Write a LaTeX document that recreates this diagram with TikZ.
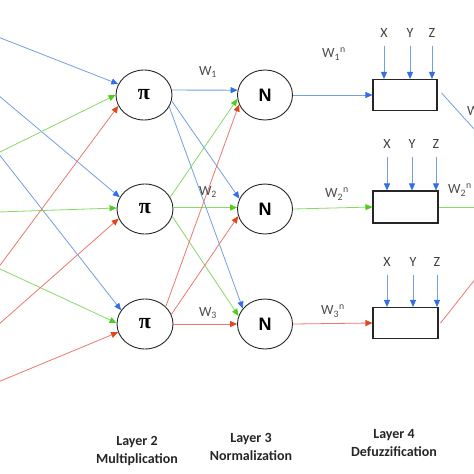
\documentclass[tikz,border=0pt]{standalone}
\usepackage{fontspec}
\setmainfont{Carlito}
\newfontfamily\pifont{Liberation Serif}
\newfontfamily\nfont{Liberation Sans}
\usetikzlibrary{arrows.meta,shapes.geometric}
\definecolor{blueL}{RGB}{115,158,228}
\definecolor{blueT}{RGB}{50,110,230}
\definecolor{greenL}{RGB}{135,218,100}
\definecolor{greenT}{RGB}{80,205,30}
\definecolor{redL}{RGB}{234,120,108}
\definecolor{redT}{RGB}{225,70,30}
\begin{document}
\begin{tikzpicture}[x=1pt,y=-1pt,
 neuron/.style={draw=black!85,line width=0.9pt,ellipse,minimum width=56pt,minimum height=50pt,inner sep=0pt},
 box/.style={draw=black!85,line width=1.1pt,minimum width=64pt,minimum height=31pt,inner sep=0pt},
 bA/.style={draw=blueL,line width=0.8pt,-{Triangle[length=7pt,width=6pt,color=blueT]}},
 gA/.style={draw=greenL,line width=0.8pt,-{Triangle[length=7pt,width=6pt,color=greenT]}},
 rA/.style={draw=redL,line width=0.8pt,-{Triangle[length=7pt,width=6pt,color=redT]}},
 bL/.style={draw=blueL,line width=0.8pt},
 gL/.style={draw=greenL,line width=0.8pt},
 rL/.style={draw=redL,line width=0.8pt},
 wlab/.style={text=black!70,font=\fontsize{14}{16}\selectfont,inner sep=0pt},
 xyz/.style={text=black!75,font=\fontsize{14}{16}\selectfont,inner sep=0pt},
 layer/.style={font=\bfseries\fontsize{14}{18}\selectfont,align=center,text=black!85}
]
\useasboundingbox (0,0) rectangle (474,474);
% left free ends
\coordinate (L1) at (-2,37);
\coordinate (L2) at (-2,95);
\coordinate (L3) at (-2,153);
\coordinate (L4) at (-2,212);
\coordinate (L5) at (-2,268);
\coordinate (L6) at (-2,325);
\coordinate (L7) at (-2,382);
% layer 2
\node[neuron] (P1) at (144,95) {\pifont\bfseries\fontsize{22}{22}\selectfont π};
\node[neuron] (P2) at (145,209) {\pifont\bfseries\fontsize{22}{22}\selectfont π};
\node[neuron] (P3) at (145,324) {\pifont\bfseries\fontsize{22}{22}\selectfont π};
% layer 3
\node[neuron,minimum width=55pt] (N1) at (265,95) {\nfont\bfseries\fontsize{18}{18}\selectfont N};
\node[neuron,minimum width=55pt] (N2) at (265,209) {\nfont\bfseries\fontsize{18}{18}\selectfont N};
\node[neuron,minimum width=55pt] (N3) at (265,324) {\nfont\bfseries\fontsize{18}{18}\selectfont N};
% layer 4 boxes
\node[box] (R1) at (405,95) {};
\node[box,minimum width=65pt,minimum height=32pt] (R2) at (405.5,207) {};
\node[box,minimum width=65pt] (R3) at (405.5,323) {};
% inputs to layer 2
\draw[bA] (L1) -- (P1.157);
\draw[bA] (L2) -- (P2.155);
\draw[bA] (L3) -- (P3.150);
\draw[gA] (L3) -- (P1.180);
\draw[gA] (L4) -- (P2.178);
\draw[gA] (L5) -- (P3.178);
\draw[rA] (L5) -- (P1.203);
\draw[rA] (L6) -- (P2.200);
\draw[rA] (L7) -- (P3.197);
% layer 2 to layer 3
\draw[bA] (P1.10) -- (N1.170);
\draw[bA] (P1.-12) -- (N2.158);
\draw[bA] (P1.-25) -- (N3.145);
\draw[gA] (P2.25) -- (N1.188);
\draw[gA] (P2.3) -- (N2.177);
\draw[gA] (P2.-15) -- (N3.163);
\draw[rA] (P3.40) -- (N1.200);
\draw[rA] (P3.20) -- (N2.195);
\draw[rA] (P3.0) -- (N3.180);
\node[wlab] (W1) at (208,72) {W\textsubscript{1}};
\node[wlab] (W2) at (208,192) {W\textsubscript{2}};
\node[wlab] (W3) at (208,313) {W\textsubscript{3}};
% layer 3 to layer 4
\draw[bA] (N1.east) -- (R1.west);
\draw[gA] (N2.east) -- (R2.west);
\draw[rA] (N3.east) -- (R3.west);
\node[wlab] (Wn1) at (334,54) {W\textsubscript{1}\textsuperscript{n}};
\node[wlab] (Wn2) at (337,194) {W\textsubscript{2}\textsuperscript{n}};
\node[wlab] (Wn3) at (333,311) {W\textsubscript{3}\textsuperscript{n}};
% X Y Z inputs
\foreach \r/\yl/\xa/\xb/\xc in {1/33/384/410/432, 2/144/387/412/436, 3/262/387/413/437}{
  \node[xyz] (X\r) at (\xa,\yl) {X};
  \node[xyz] (Y\r) at (\xb,\yl) {Y};
  \node[xyz] (Z\r) at (\xc,\yl) {Z};
  \draw[bA] ([yshift=-8pt]X\r.south) -- (X\r.south |- R\r.north);
  \draw[bA] ([yshift=-8pt]Y\r.south) -- (Y\r.south |- R\r.north);
  \draw[bA] ([yshift=-8pt]Z\r.south) -- (Z\r.south |- R\r.north);
}
% outputs (cut at right edge)
\coordinate (O1) at (484,140);
\coordinate (O2) at (484,207);
\coordinate (O3) at (484,268);
\draw[bL] ([xshift=4pt,yshift=2pt]R1.east) -- (O1);
\draw[gL] (R2.east) -- (O2);
\draw[rL] ([xshift=2pt]R3.east) -- (O3);
\node[wlab,anchor=west] (Wo1) at (467,112) {W\textsubscript{1}\textsuperscript{n}};
\node[wlab,anchor=west] (Wo2) at (448,190) {W\textsubscript{2}\textsuperscript{n}};
% layer captions
\node[layer] (C2) at (137,451) {Layer 2\\Multiplication};
\node[layer] (C3) at (251,447) {Layer 3\\Normalization};
\node[layer] (C4) at (394,443) {Layer 4\\Defuzzification};
\end{tikzpicture}
\end{document}
